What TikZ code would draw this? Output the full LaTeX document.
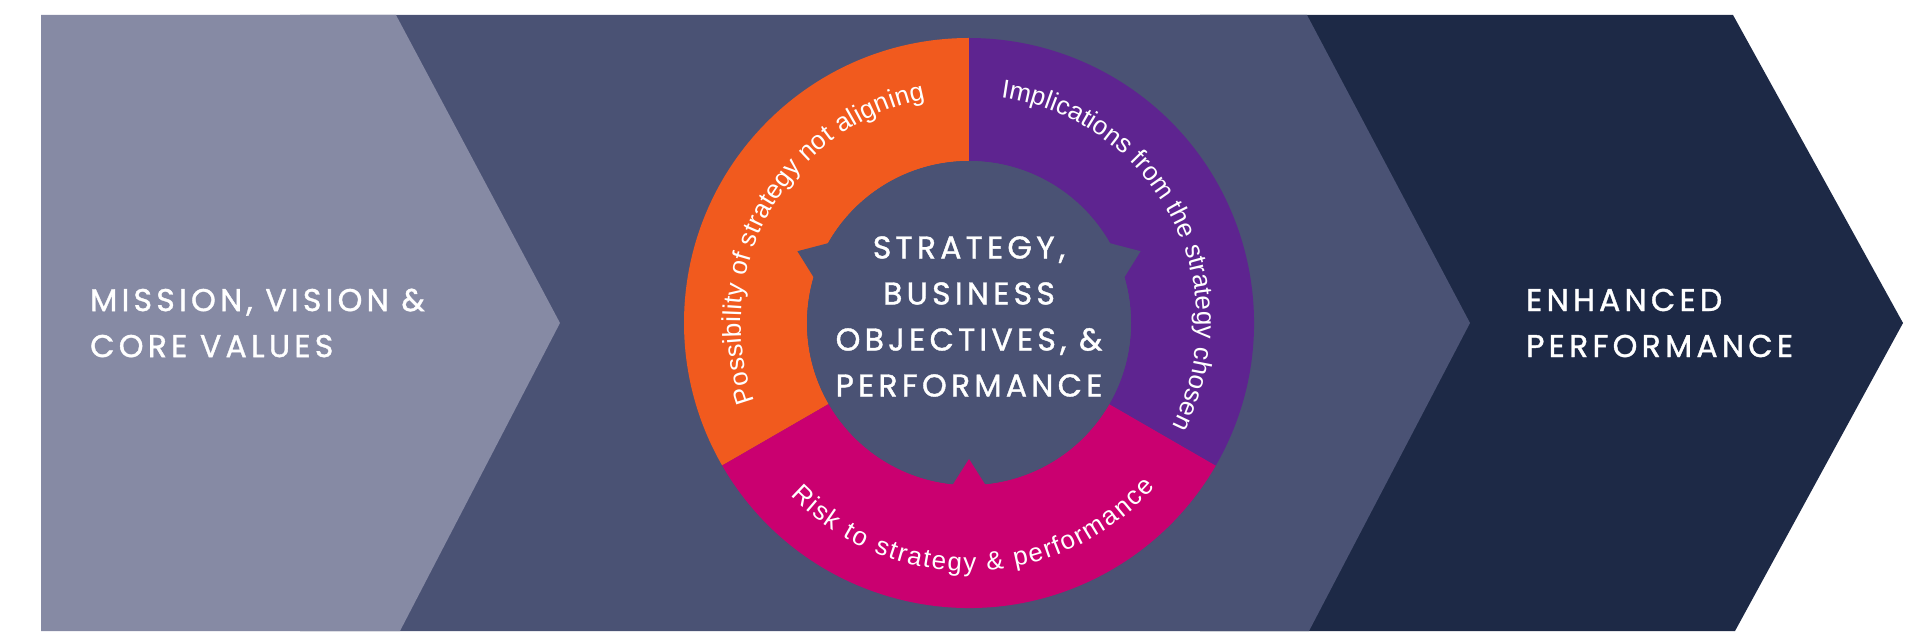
\documentclass[tikz,border=0pt]{standalone}
\usepackage{fontspec}
\newfontfamily\headfont{Poppins}[LetterSpace=13.5, FakeBold=1.2]
\newfontfamily\ringfont{Liberation Sans}
\usetikzlibrary{decorations.text}

\definecolor{chevlight}{HTML}{868AA4}
\definecolor{chevmid}{HTML}{4A5274}
\definecolor{chevdark}{HTML}{1D2946}
\definecolor{ringorange}{HTML}{F15A1E}
\definecolor{ringpurple}{HTML}{5E2490}
\definecolor{ringmagenta}{HTML}{CA0070}

\begin{document}
\begin{tikzpicture}[x=1pt, y=1pt,
    headtext/.style={text=white, inner sep=0pt, font=\headfont\fontsize{31.5}{46}\selectfont},
    ringtext/.style={decorate, decoration={text along path, text align=fit to path, text color=white,
        text={|\ringfont\fontsize{26}{26}\selectfont|#1}}}]
    \useasboundingbox (0,0) rectangle (1911,632);

    % chevrons, back to front
    \fill[chevdark] (1200,617) -- (1733,617) -- (1903,309) -- (1735,1) -- (1200,1) -- cycle;
    \fill[chevmid] (300,617) -- (1307,617) -- (1470,309) -- (1309,1) -- (300,1) -- cycle;
    \fill[chevlight] (41,617) -- (396,617) -- (560,309) -- (400,1) -- (41,1) -- cycle;

    \node[headtext, anchor=west, align=left] (mission) at (90,309) {MISSION, VISION \&\\CORE VALUES};
    \node[headtext, anchor=west, align=left] (enhanced) at (1526,309) {ENHANCED\\PERFORMANCE};

    \begin{scope}[shift={(969,309)}]
        % ring
        \fill[ringorange] (90:162) -- (90:285) arc[start angle=90, end angle=210, radius=285]
            -- (210:162) arc[start angle=210, end angle=90, radius=162] -- cycle;
        \fill[ringmagenta] (210:162) -- (210:285) arc[start angle=210, end angle=330, radius=285]
            -- (330:162) arc[start angle=330, end angle=210, radius=162] -- cycle;
        \fill[ringpurple] (330:162) -- (330:285) arc[start angle=330, end angle=450, radius=285]
            -- (90:162) arc[start angle=90, end angle=-30, radius=162] -- cycle;

        % centre with its teeth
        \fill[chevmid] (0,0) circle[radius=162];
        \fill[chevmid] (150.5:162) -- (157.3:186) -- (163.6:162) -- cycle;
        \fill[chevmid] (29.5:162) -- (22.7:186) -- (16.4:162) -- cycle;
        \fill[ringmagenta] (263:170) -- (270:136) -- (277:170) -- cycle;

        \path[ringtext={Possibility of strategy not aligning}] (200:228) arc[start angle=200, end angle=101, radius=228];
        \path[ringtext={Implications from the strategy chosen}] (82:228) arc[start angle=82, end angle=-27, radius=228];
        \path[ringtext={Risk to strategy {\&} performance}] (224:248) arc[start angle=224, end angle=318.6, radius=248];

        \node[headtext, align=center] (core) at (0,6.5) {STRATEGY,\\BUSINESS\\OBJECTIVES, \&\\PERFORMANCE};
    \end{scope}
\end{tikzpicture}
\end{document}
